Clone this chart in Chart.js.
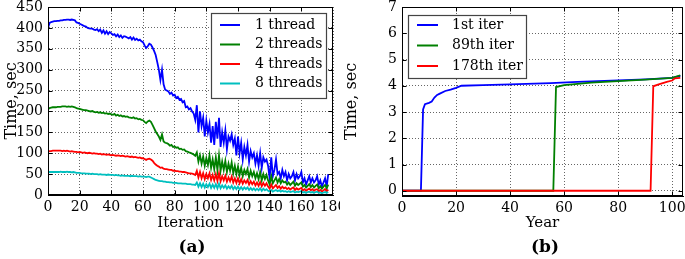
<!DOCTYPE html>
<html>
<head>
<meta charset="utf-8">
<script src="https://cdn.jsdelivr.net/npm/chart.js@4"></script>
<style>
  html, body { margin: 0; padding: 0; background: #fff; }
  #wrap { position: relative; width: 685px; height: 259px; overflow: hidden; }
  canvas { position: absolute; top: 0; }
  .cap { position: absolute; top: 236px; font: bold 17px "DejaVu Serif", serif; color: #000; transform: translateX(-50%); }
</style>
</head>
<body>
<div id="wrap">
  <canvas id="ca" width="340" height="259" style="left:0"></canvas>
  <canvas id="cb" width="345" height="259" style="left:340px"></canvas>
  <div class="cap" style="left:192px">(a)</div>
  <div class="cap" style="left:545px">(b)</div>
</div>
<script>
// ---------- Chart (a): time per iteration ----------
const threadLabels = ['1 thread', '2 threads', '4 threads', '8 threads'];
const iterTicks = [0, 20, 40, 60, 80, 100, 120, 140, 160, 180];
const timeTicksA = [0, 50, 100, 150, 200, 250, 300, 350, 400, 450];

const thread1 = [
  400, 412, 414, 415, 416, 416, 417, 417, 418, 418,
  419, 419, 420, 420, 419, 420, 419, 418, 413, 412,
  410, 408, 406, 404, 403, 400, 399, 398, 398, 396,
  395, 397, 392, 396, 388, 394, 386, 392, 385, 390,
  387, 383, 385, 380, 384, 378, 382, 376, 380, 379,
  377, 375, 378, 372, 377, 371, 374, 370, 372, 368,
  366, 358, 352, 356, 362, 360, 353, 345, 335, 318,
  300, 275, 300, 265, 252, 250, 248, 242, 245, 238,
  240, 232, 235, 228, 230, 222, 225, 210, 212, 205,
  208, 200, 195, 180, 215, 150, 200, 165, 185, 140,
  178, 150, 170, 125, 165, 120, 175, 135, 185, 115,
  150, 125, 155, 110, 140, 130, 145, 120, 135, 95,
  140, 100, 125, 85, 115, 95, 120, 80, 105, 90,
  100, 75, 95, 70, 100, 65, 90, 80, 85, 70,
  40, 90, 45, 60, 85, 50, 55, 40, 60, 45,
  55, 35, 50, 40, 45, 55, 35, 50, 40, 45,
  55, 30, 40, 25, 35, 45, 30, 40, 30, 35,
  45, 25, 35, 20, 30, 40, 20, 50
];
const thread2 = [
  205, 208, 209, 210, 210, 210, 211, 211, 211, 212,
  212, 212, 211, 212, 211, 212, 211, 210, 208, 207,
  206, 205, 204, 203, 203, 202, 201, 200, 201, 199,
  198, 199, 197, 198, 196, 197, 195, 196, 194, 195,
  193, 192, 194, 190, 192, 189, 191, 188, 189, 187,
  188, 186, 185, 184, 186, 183, 184, 181, 182, 180,
  179, 175, 172, 176, 178, 175, 168, 160, 152, 146,
  140, 132, 145, 128, 125, 124, 122, 118, 120, 115,
  116, 113, 114, 110, 111, 108, 109, 105, 104, 102,
  101, 99, 97, 94, 102, 80, 95, 75, 92, 70,
  88, 72, 95, 65, 85, 62, 90, 60, 95, 58,
  80, 60, 82, 55, 75, 58, 78, 52, 70, 50,
  68, 48, 65, 45, 60, 50, 62, 42, 58, 45,
  55, 40, 52, 38, 55, 35, 50, 38, 48, 35,
  25, 45, 28, 35, 42, 30, 38, 28, 35, 30,
  32, 25, 30, 24, 28, 32, 22, 28, 24, 27,
  30, 20, 24, 18, 22, 26, 19, 24, 18, 22,
  25, 16, 21, 15, 20, 24, 16, 25
];
const thread4 = [
  104, 105, 105, 106, 106, 106, 106, 106, 106, 105,
  106, 105, 106, 105, 104, 105, 104, 103, 103, 102,
  103, 102, 101, 102, 101, 100, 101, 100, 99, 100,
  99, 99, 98, 99, 97, 98, 97, 96, 97, 96,
  95, 96, 95, 94, 95, 94, 93, 94, 93, 92,
  93, 92, 91, 92, 90, 91, 90, 89, 90, 88,
  88, 86, 84, 86, 87, 85, 82, 77, 73, 70,
  68, 65, 66, 63, 62, 62, 61, 60, 60, 58,
  58, 57, 57, 56, 56, 55, 55, 54, 53, 52,
  52, 51, 50, 48, 58, 42, 55, 40, 52, 38,
  50, 40, 52, 36, 48, 35, 50, 34, 52, 33,
  45, 35, 46, 32, 42, 33, 44, 30, 40, 29,
  40, 28, 38, 27, 35, 29, 36, 25, 33, 26,
  32, 23, 30, 22, 31, 21, 29, 22, 28, 20,
  15, 25, 16, 20, 24, 17, 21, 15, 20, 16,
  18, 14, 17, 13, 16, 18, 12, 16, 13, 15,
  17, 11, 14, 10, 13, 15, 11, 14, 10, 13,
  14, 9, 12, 8, 11, 14, 9, 13
];
const thread8 = [
  54, 55, 55, 55, 55, 55, 55, 55, 56, 55,
  55, 55, 56, 55, 55, 54, 55, 54, 53, 53,
  53, 52, 52, 52, 51, 51, 51, 50, 51, 50,
  50, 50, 49, 50, 49, 49, 49, 48, 49, 48,
  48, 48, 47, 48, 47, 47, 46, 47, 46, 46,
  46, 46, 45, 46, 45, 45, 45, 44, 45, 44,
  44, 44, 43, 44, 44, 42, 40, 38, 36, 35,
  34, 33, 33, 32, 32, 31, 31, 30, 30, 29,
  29, 29, 28, 28, 28, 27, 27, 27, 26, 26,
  26, 25, 25, 24, 30, 20, 28, 19, 27, 18,
  26, 19, 27, 17, 25, 17, 26, 16, 27, 16,
  23, 17, 23, 15, 21, 16, 22, 14, 20, 14,
  20, 13, 19, 13, 18, 14, 18, 12, 17, 12,
  16, 11, 15, 11, 16, 10, 15, 11, 14, 10,
  8, 12, 8, 10, 12, 9, 11, 8, 10, 8,
  9, 7, 9, 7, 8, 9, 6, 8, 7, 8,
  9, 6, 7, 5, 7, 8, 6, 7, 5, 7,
  8, 5, 6, 4, 6, 7, 5, 7
];

// ---------- Chart (b): time per year ----------
const iterLabels = ['1st iter', '89th iter', '178th iter'];
const yearTicks = [0, 20, 40, 60, 80, 100];
const timeTicksB = [0, 1, 2, 3, 4, 5, 6, 7];
const iter1Years = [0, 7, 7.8, 8.5, 10, 11, 12, 13, 14, 16, 18, 20, 22, 30, 40, 55, 65, 80, 90, 100, 103];
const iter1Times = [0, 0, 3.1, 3.3, 3.35, 3.4, 3.55, 3.65, 3.7, 3.8, 3.85, 3.92, 4.0, 4.02, 4.05, 4.1, 4.15, 4.2, 4.24, 4.3, 4.38];
const iter89Years = [0, 56, 57, 60, 70, 80, 90, 100, 103];
const iter89Times = [0, 0, 3.95, 4.02, 4.12, 4.18, 4.23, 4.3, 4.4];
const iter178Years = [0, 92, 93, 95, 98, 100, 101, 103];
const iter178Times = [0, 0, 3.98, 4.05, 4.15, 4.2, 4.28, 4.3];

const COLORS = ['#0000ff', '#008000', '#ff0000', '#00bfbf'];
const SERIF = '"DejaVu Serif", serif';

function pts(xs, ys) { return ys.map((y, i) => ({ x: xs[i], y })); }
const iterIdx = thread1.map((_, i) => i);

// Frame round the plot area plus matplotlib-style inward tick marks
const framePlugin = {
  id: 'frame',
  afterDatasetsDraw(chart) {
    const { ctx, chartArea: a, scales } = chart;
    const L = Math.round(a.left) + 0.5, T = Math.round(a.top) + 0.5;
    const R = Math.round(a.right) - 0.5, B = Math.round(a.bottom) - 0.5;
    ctx.save();
    ctx.strokeStyle = '#000';
    ctx.lineWidth = 1;
    ctx.beginPath();
    scales.x.ticks.forEach(t => {
      const px = Math.round(scales.x.getPixelForValue(t.value)) + 0.5;
      if (px < L + 1 || px > R - 1) return;
      ctx.moveTo(px, B); ctx.lineTo(px, B - 4);
      ctx.moveTo(px, T); ctx.lineTo(px, T + 4);
    });
    scales.y.ticks.forEach(t => {
      const py = Math.round(scales.y.getPixelForValue(t.value)) + 0.5;
      if (py < T + 1 || py > B - 1) return;
      ctx.moveTo(L, py); ctx.lineTo(L + 4, py);
      ctx.moveTo(R, py); ctx.lineTo(R - 4, py);
    });
    ctx.stroke();
    ctx.strokeRect(L, T, R - L, B - T);
    ctx.restore();
  }
};

function legendPlugin(box, lineX0, lineX1, textX, rowY) {
  return {
    id: 'boxLegend',
    afterDraw(chart) {
      const ctx = chart.ctx;
      ctx.save();
      ctx.fillStyle = '#fff';
      ctx.fillRect(box[0], box[1], box[2] - box[0], box[3] - box[1]);
      ctx.strokeStyle = '#444';
      ctx.lineWidth = 1.2;
      ctx.strokeRect(box[0] + 0.5, box[1] + 0.5, box[2] - box[0], box[3] - box[1]);
      ctx.font = '14px ' + SERIF;
      ctx.textBaseline = 'middle';
      ctx.fillStyle = '#000';
      chart.data.datasets.forEach((ds, i) => {
        const y = rowY[i];
        ctx.strokeStyle = ds.borderColor;
        ctx.lineWidth = 2;
        ctx.beginPath();
        ctx.moveTo(lineX0, y);
        ctx.lineTo(lineX1, y);
        ctx.stroke();
        ctx.fillText(ds.label, textX, y);
      });
      ctx.restore();
    }
  };
}

function makeScales(xMin, xMax, xTicks, yMin, yMax, yTicks, xTitle, yTitle, yWidth, xHeight) {
  const grid = { color: '#666', lineWidth: 1, drawTicks: false };
  const border = { display: true, color: '#000', width: 1, dash: [1, 2] };
  const tickFont = { family: SERIF, size: 14 };
  return {
    x: {
      type: 'linear', min: xMin, max: xMax,
      afterBuildTicks: s => { s.ticks = xTicks.map(v => ({ value: v })); },
      afterFit: s => { s.height = xHeight; s.paddingLeft = 0; s.paddingRight = 0; },
      grid, border,
      ticks: { font: tickFont, color: '#000', padding: 4, maxRotation: 0, autoSkip: false },
      title: { display: true, text: xTitle, font: { family: SERIF, size: 15 }, color: '#000', padding: 0 }
    },
    y: {
      type: 'linear', min: yMin, max: yMax,
      afterBuildTicks: s => { s.ticks = yTicks.map(v => ({ value: v })); },
      afterFit: s => { s.width = yWidth; s.paddingTop = 0; s.paddingBottom = 0; },
      grid, border,
      ticks: { font: tickFont, color: '#000', padding: 5, autoSkip: false },
      title: { display: true, text: yTitle, font: { family: SERIF, size: 16 }, color: '#000', padding: { top: 2, bottom: 0 } }
    }
  };
}

const common = {
  responsive: false,
  animation: false,
  events: [],
  plugins: { legend: { display: false }, tooltip: { enabled: false } },
  elements: { point: { radius: 0 }, line: { borderWidth: 1.8, tension: 0 } }
};

const seriesA = [thread1, thread2, thread4, thread8];
new Chart(document.getElementById('ca'), {
  type: 'line',
  data: {
    datasets: seriesA.map((s, i) => ({
      label: threadLabels[i], data: pts(iterIdx, s),
      borderColor: COLORS[i], backgroundColor: COLORS[i], fill: false, order: 4 - i
    }))
  },
  options: Object.assign({}, common, {
    layout: { padding: { top: 7, right: 7, bottom: 27, left: 0 } },
    scales: makeScales(0, 180, iterTicks, 0, 450, timeTicksA, 'Iteration', 'Time, sec', 48, 37)
  }),
  plugins: [framePlugin, legendPlugin([211, 13, 326, 98], 220, 240, 255, [25, 44.5, 64, 83.5])]
});

const xsB = [iter1Years, iter89Years, iter178Years];
const ysB = [iter1Times, iter89Times, iter178Times];
new Chart(document.getElementById('cb'), {
  type: 'line',
  data: {
    datasets: ysB.map((s, i) => ({
      label: iterLabels[i], data: pts(xsB[i], s),
      borderColor: COLORS[i], backgroundColor: COLORS[i], fill: false, order: 3 - i
    }))
  },
  options: Object.assign({}, common, {
    layout: { padding: { top: 7, right: 2, bottom: 27, left: 0 } },
    scales: makeScales(0, 104, yearTicks, -0.2, 7, timeTicksB, 'Year', 'Time, sec', 62, 36)
  }),
  plugins: [framePlugin, legendPlugin([68, 15, 186, 78], 77, 98, 112, [25, 45.5, 66])]
});
</script>
</body>
</html>
